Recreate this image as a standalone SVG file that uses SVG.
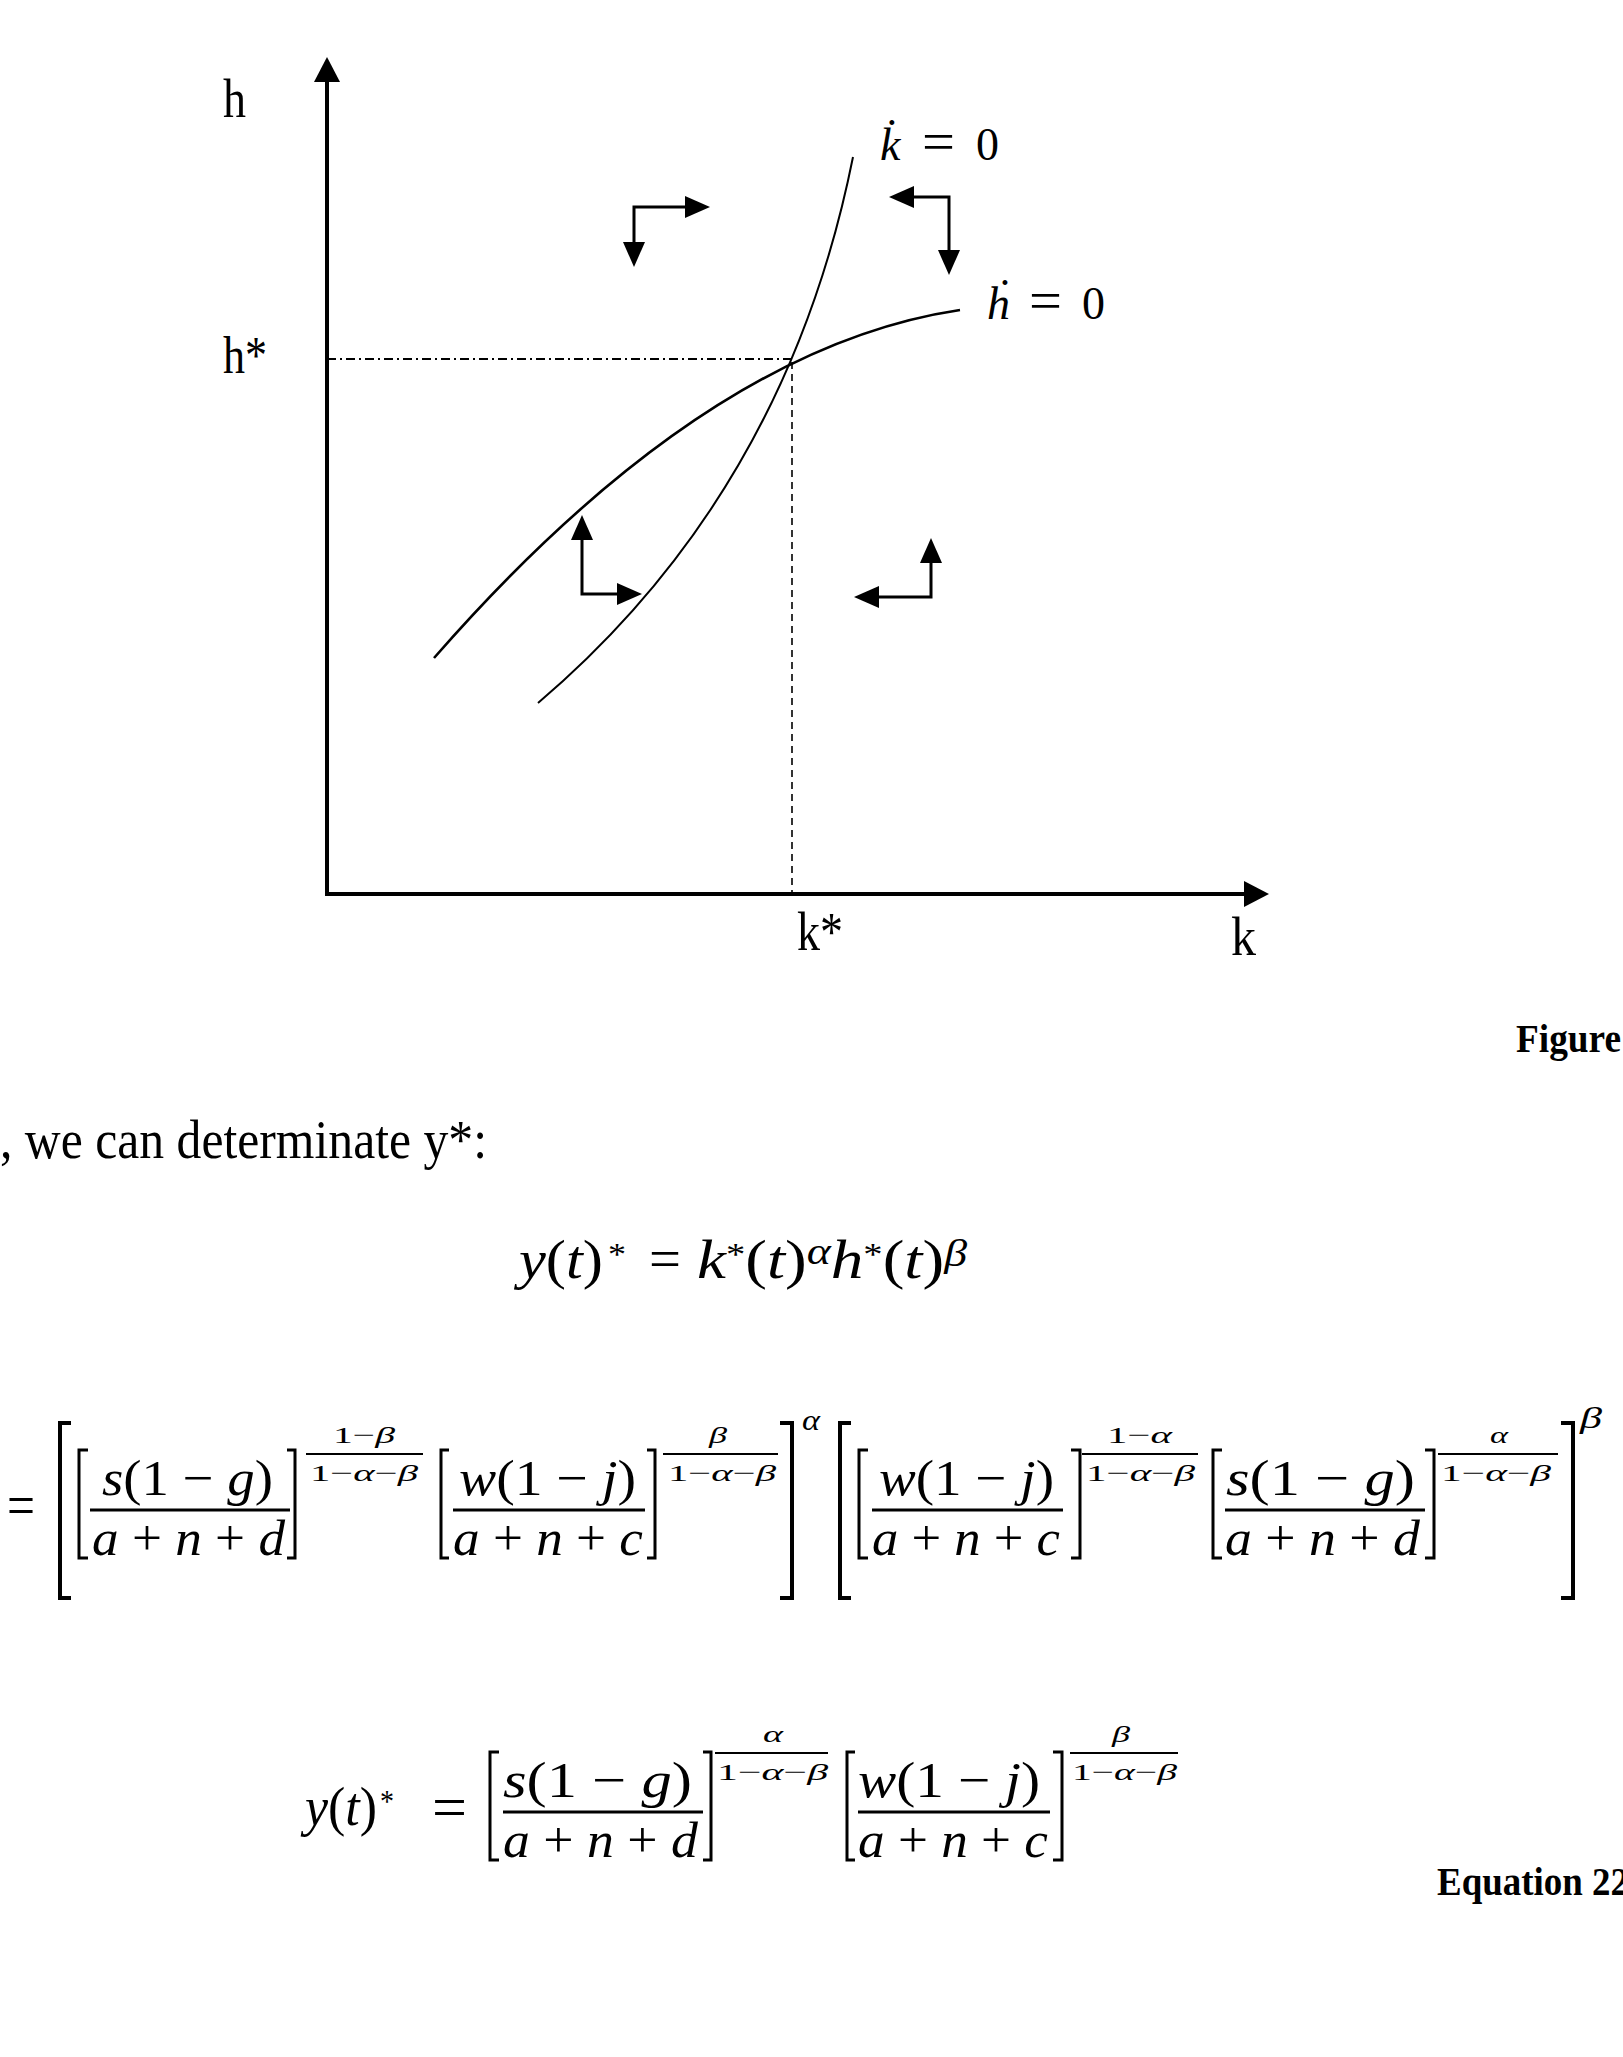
<svg xmlns="http://www.w3.org/2000/svg" width="1623" height="2057" viewBox="0 0 1623 2057">
<style>
text { font-family: "Liberation Serif", "DejaVu Serif", serif; fill: #000; }
.i { font-style: italic; }
.b { font-weight: bold; }
.ax { fill: none; stroke: #000; stroke-width: 4; marker-start: url(#ah); marker-end: url(#ah); }
.arw { fill: none; stroke: #000; stroke-width: 3; marker-start: url(#sh); marker-end: url(#sh); }
.crv { fill: none; stroke: #000; }
.bar { stroke: #000; stroke-width: 3; }
.sbar { stroke: #000; stroke-width: 1.8; }
.brs { fill: none; stroke: #000; stroke-width: 3; }
.brb { fill: none; stroke: #000; stroke-width: 4; }
</style>
<defs>
<marker id="ah" markerUnits="userSpaceOnUse" viewBox="0 0 25 26" refX="0" refY="13" markerWidth="25" markerHeight="26" orient="auto-start-reverse"><path d="M0,0 L25,13 L0,26 z" fill="#000"/></marker>
<marker id="sh" markerUnits="userSpaceOnUse" viewBox="0 0 25 22" refX="0" refY="11" markerWidth="25" markerHeight="22" orient="auto-start-reverse"><path d="M0,0 L25,11 L0,22 z" fill="#000"/></marker>
</defs>
<rect width="1623" height="2057" fill="#fff"/>

<g id="axes">
<path class="ax" d="M327,82 L327,894 L1244,894"/>
<line x1="327" y1="359" x2="792" y2="359" stroke="#000" stroke-width="2" stroke-dasharray="9 4 2 4"/>
<line x1="792" y1="362" x2="792" y2="892" stroke="#000" stroke-width="1.6" stroke-dasharray="7 5"/>
</g>

<g id="curves">
<path id="h-dot-curve" class="crv" stroke-width="2.6" d="M434,658 Q705,348 960,310"/>
<path id="k-dot-curve" class="crv" stroke-width="2" d="M538,703 Q786,492 853,157"/>
</g>

<g id="connectors">
<path class="arw" d="M634,242 L634,207 L685,207"/>
<path class="arw" d="M914,197 L949,197 L949,250"/>
<path class="arw" d="M582,540 L582,594 L617,594"/>
<path class="arw" d="M931,563 L931,597 L879,597"/>
</g>

<g id="diagram-labels">
<text x="223" y="117" font-size="54" textLength="23" lengthAdjust="spacingAndGlyphs">h</text>
<text x="223" y="373" font-size="52" textLength="44" lengthAdjust="spacingAndGlyphs">h*</text>
<text x="797" y="950" font-size="54" textLength="46" lengthAdjust="spacingAndGlyphs">k*</text>
<text x="1231" y="955" font-size="54" textLength="25" lengthAdjust="spacingAndGlyphs">k</text>
<g id="label-kdot">
<text class="i" x="880" y="160" font-size="46">k̇</text>
<text x="922" y="160" font-size="54" textLength="33" lengthAdjust="spacingAndGlyphs">=</text>
<text x="976" y="160" font-size="46">0</text>
</g>
<g id="label-hdot">
<text class="i" x="987" y="319" font-size="46">ḣ</text>
<text x="1029" y="319" font-size="54" textLength="33" lengthAdjust="spacingAndGlyphs">=</text>
<text x="1082" y="319" font-size="46">0</text>
</g>
<text class="b" x="1516" y="1052" font-size="39" textLength="105" lengthAdjust="spacingAndGlyphs">Figure</text>
</g>

<g id="sentence">
<text x="0" y="1158" font-size="54" textLength="487" lengthAdjust="spacingAndGlyphs">, we can determinate y*:</text>
</g>

<g id="equation-1">
<text x="519" y="1278" font-size="54" textLength="84" lengthAdjust="spacingAndGlyphs"><tspan class="i">y</tspan>(<tspan class="i">t</tspan>)</text>
<text x="608" y="1265" font-size="32" textLength="18" lengthAdjust="spacingAndGlyphs">*</text>
<text x="649" y="1278" font-size="56" textLength="32" lengthAdjust="spacingAndGlyphs">=</text>
<text x="697" y="1278" font-size="54" textLength="270" lengthAdjust="spacingAndGlyphs"><tspan class="i">k</tspan><tspan font-size="32" dy="-13">*</tspan><tspan dy="13">(</tspan><tspan class="i">t</tspan>)<tspan class="i" font-size="38" dy="-14">α</tspan><tspan class="i" dy="14">h</tspan><tspan font-size="32" dy="-13">*</tspan><tspan dy="13">(</tspan><tspan class="i">t</tspan>)<tspan class="i" font-size="38" dy="-12">β</tspan></text>
</g>

<g id="equation-2">
<text x="7" y="1525" font-size="60" textLength="28" lengthAdjust="spacingAndGlyphs">=</text>
<path class="brb" d="M71,1423 L60,1423 L60,1598 L71,1598"/>
<path class="brb" d="M780,1423 L792,1423 L792,1598 L780,1598"/>
<path class="brb" d="M851,1423 L840,1423 L840,1598 L851,1598"/>
<path class="brb" d="M1561,1423 L1573,1423 L1573,1598 L1561,1598"/>
<text class="i" x="802" y="1430" font-size="30" textLength="18" lengthAdjust="spacingAndGlyphs">α</text>
<text class="i" x="1580" y="1428" font-size="30" textLength="22" lengthAdjust="spacingAndGlyphs">β</text>

<g id="eq2-frac1">
<path class="brs" d="M88,1450 L79,1450 L79,1558 L88,1558"/>
<path class="brs" d="M287,1450 L295,1450 L295,1558 L287,1558"/>
<text x="102" y="1495" font-size="51" textLength="171" lengthAdjust="spacingAndGlyphs"><tspan class="i">s</tspan>(1 − <tspan class="i">g</tspan>)</text>
<line class="bar" x1="90" y1="1510" x2="290" y2="1510"/>
<text x="92" y="1555" font-size="51" textLength="193" lengthAdjust="spacingAndGlyphs"><tspan class="i">a</tspan> + <tspan class="i">n</tspan> + <tspan class="i">d</tspan></text>
<text x="333" y="1443" font-size="24" textLength="62" lengthAdjust="spacingAndGlyphs">1−<tspan class="i">β</tspan></text>
<line class="sbar" x1="306" y1="1454" x2="423" y2="1454"/>
<text x="310" y="1481" font-size="24" textLength="108" lengthAdjust="spacingAndGlyphs">1−<tspan class="i">α</tspan>−<tspan class="i">β</tspan></text>
</g>

<g id="eq2-frac2">
<path class="brs" d="M449,1450 L441,1450 L441,1558 L449,1558"/>
<path class="brs" d="M647,1450 L655,1450 L655,1558 L647,1558"/>
<text x="459" y="1495" font-size="51" textLength="177" lengthAdjust="spacingAndGlyphs"><tspan class="i">w</tspan>(1 − <tspan class="i">j</tspan>)</text>
<line class="bar" x1="453" y1="1510" x2="645" y2="1510"/>
<text x="453" y="1555" font-size="51" textLength="190" lengthAdjust="spacingAndGlyphs"><tspan class="i">a</tspan> + <tspan class="i">n</tspan> + <tspan class="i">c</tspan></text>
<text class="i" x="709" y="1443" font-size="24" textLength="18" lengthAdjust="spacingAndGlyphs">β</text>
<line class="sbar" x1="663" y1="1454" x2="778" y2="1454"/>
<text x="668" y="1481" font-size="24" textLength="108" lengthAdjust="spacingAndGlyphs">1−<tspan class="i">α</tspan>−<tspan class="i">β</tspan></text>
</g>

<g id="eq2-frac3">
<path class="brs" d="M868,1450 L859,1450 L859,1558 L868,1558"/>
<path class="brs" d="M1071,1450 L1080,1450 L1080,1558 L1071,1558"/>
<text x="879" y="1495" font-size="51" textLength="175" lengthAdjust="spacingAndGlyphs"><tspan class="i">w</tspan>(1 − <tspan class="i">j</tspan>)</text>
<line class="bar" x1="872" y1="1510" x2="1063" y2="1510"/>
<text x="872" y="1555" font-size="51" textLength="188" lengthAdjust="spacingAndGlyphs"><tspan class="i">a</tspan> + <tspan class="i">n</tspan> + <tspan class="i">c</tspan></text>
<text x="1107" y="1443" font-size="24" textLength="65" lengthAdjust="spacingAndGlyphs">1−<tspan class="i">α</tspan></text>
<line class="sbar" x1="1082" y1="1454" x2="1198" y2="1454"/>
<text x="1086" y="1481" font-size="24" textLength="109" lengthAdjust="spacingAndGlyphs">1−<tspan class="i">α</tspan>−<tspan class="i">β</tspan></text>
</g>

<g id="eq2-frac4">
<path class="brs" d="M1222,1450 L1213,1450 L1213,1558 L1222,1558"/>
<path class="brs" d="M1425,1450 L1434,1450 L1434,1558 L1425,1558"/>
<text x="1226" y="1495" font-size="51" textLength="189" lengthAdjust="spacingAndGlyphs"><tspan class="i">s</tspan>(1 − <tspan class="i">g</tspan>)</text>
<line class="bar" x1="1225" y1="1510" x2="1425" y2="1510"/>
<text x="1225" y="1555" font-size="51" textLength="195" lengthAdjust="spacingAndGlyphs"><tspan class="i">a</tspan> + <tspan class="i">n</tspan> + <tspan class="i">d</tspan></text>
<text class="i" x="1490" y="1443" font-size="24" textLength="18" lengthAdjust="spacingAndGlyphs">α</text>
<line class="sbar" x1="1438" y1="1454" x2="1558" y2="1454"/>
<text x="1441" y="1481" font-size="24" textLength="110" lengthAdjust="spacingAndGlyphs">1−<tspan class="i">α</tspan>−<tspan class="i">β</tspan></text>
</g>
</g>

<g id="equation-3">
<text x="305" y="1825" font-size="54" textLength="72" lengthAdjust="spacingAndGlyphs"><tspan class="i">y</tspan>(<tspan class="i">t</tspan>)</text>
<text x="380" y="1812" font-size="32" textLength="14" lengthAdjust="spacingAndGlyphs">*</text>
<text x="432" y="1827" font-size="60" textLength="35" lengthAdjust="spacingAndGlyphs">=</text>
<g id="eq3-frac1">
<path class="brs" d="M499,1752 L490,1752 L490,1860 L499,1860"/>
<path class="brs" d="M703,1752 L711,1752 L711,1860 L703,1860"/>
<text x="503" y="1797" font-size="51" textLength="189" lengthAdjust="spacingAndGlyphs"><tspan class="i">s</tspan>(1 − <tspan class="i">g</tspan>)</text>
<line class="bar" x1="503" y1="1812" x2="703" y2="1812"/>
<text x="503" y="1857" font-size="51" textLength="195" lengthAdjust="spacingAndGlyphs"><tspan class="i">a</tspan> + <tspan class="i">n</tspan> + <tspan class="i">d</tspan></text>
<text class="i" x="763" y="1742" font-size="24" textLength="20" lengthAdjust="spacingAndGlyphs">α</text>
<line class="sbar" x1="715" y1="1753" x2="828" y2="1753"/>
<text x="717" y="1780" font-size="24" textLength="111" lengthAdjust="spacingAndGlyphs">1−<tspan class="i">α</tspan>−<tspan class="i">β</tspan></text>
</g>
<g id="eq3-frac2">
<path class="brs" d="M855,1752 L847,1752 L847,1860 L855,1860"/>
<path class="brs" d="M1053,1752 L1062,1752 L1062,1860 L1053,1860"/>
<text x="858" y="1797" font-size="51" textLength="182" lengthAdjust="spacingAndGlyphs"><tspan class="i">w</tspan>(1 − <tspan class="i">j</tspan>)</text>
<line class="bar" x1="858" y1="1812" x2="1050" y2="1812"/>
<text x="858" y="1857" font-size="51" textLength="190" lengthAdjust="spacingAndGlyphs"><tspan class="i">a</tspan> + <tspan class="i">n</tspan> + <tspan class="i">c</tspan></text>
<text class="i" x="1112" y="1742" font-size="24" textLength="18" lengthAdjust="spacingAndGlyphs">β</text>
<line class="sbar" x1="1070" y1="1753" x2="1178" y2="1753"/>
<text x="1072" y="1780" font-size="24" textLength="105" lengthAdjust="spacingAndGlyphs">1−<tspan class="i">α</tspan>−<tspan class="i">β</tspan></text>
</g>
<text class="b" x="1437" y="1895" font-size="39" textLength="192" lengthAdjust="spacingAndGlyphs">Equation 22</text>
</g>
</svg>
